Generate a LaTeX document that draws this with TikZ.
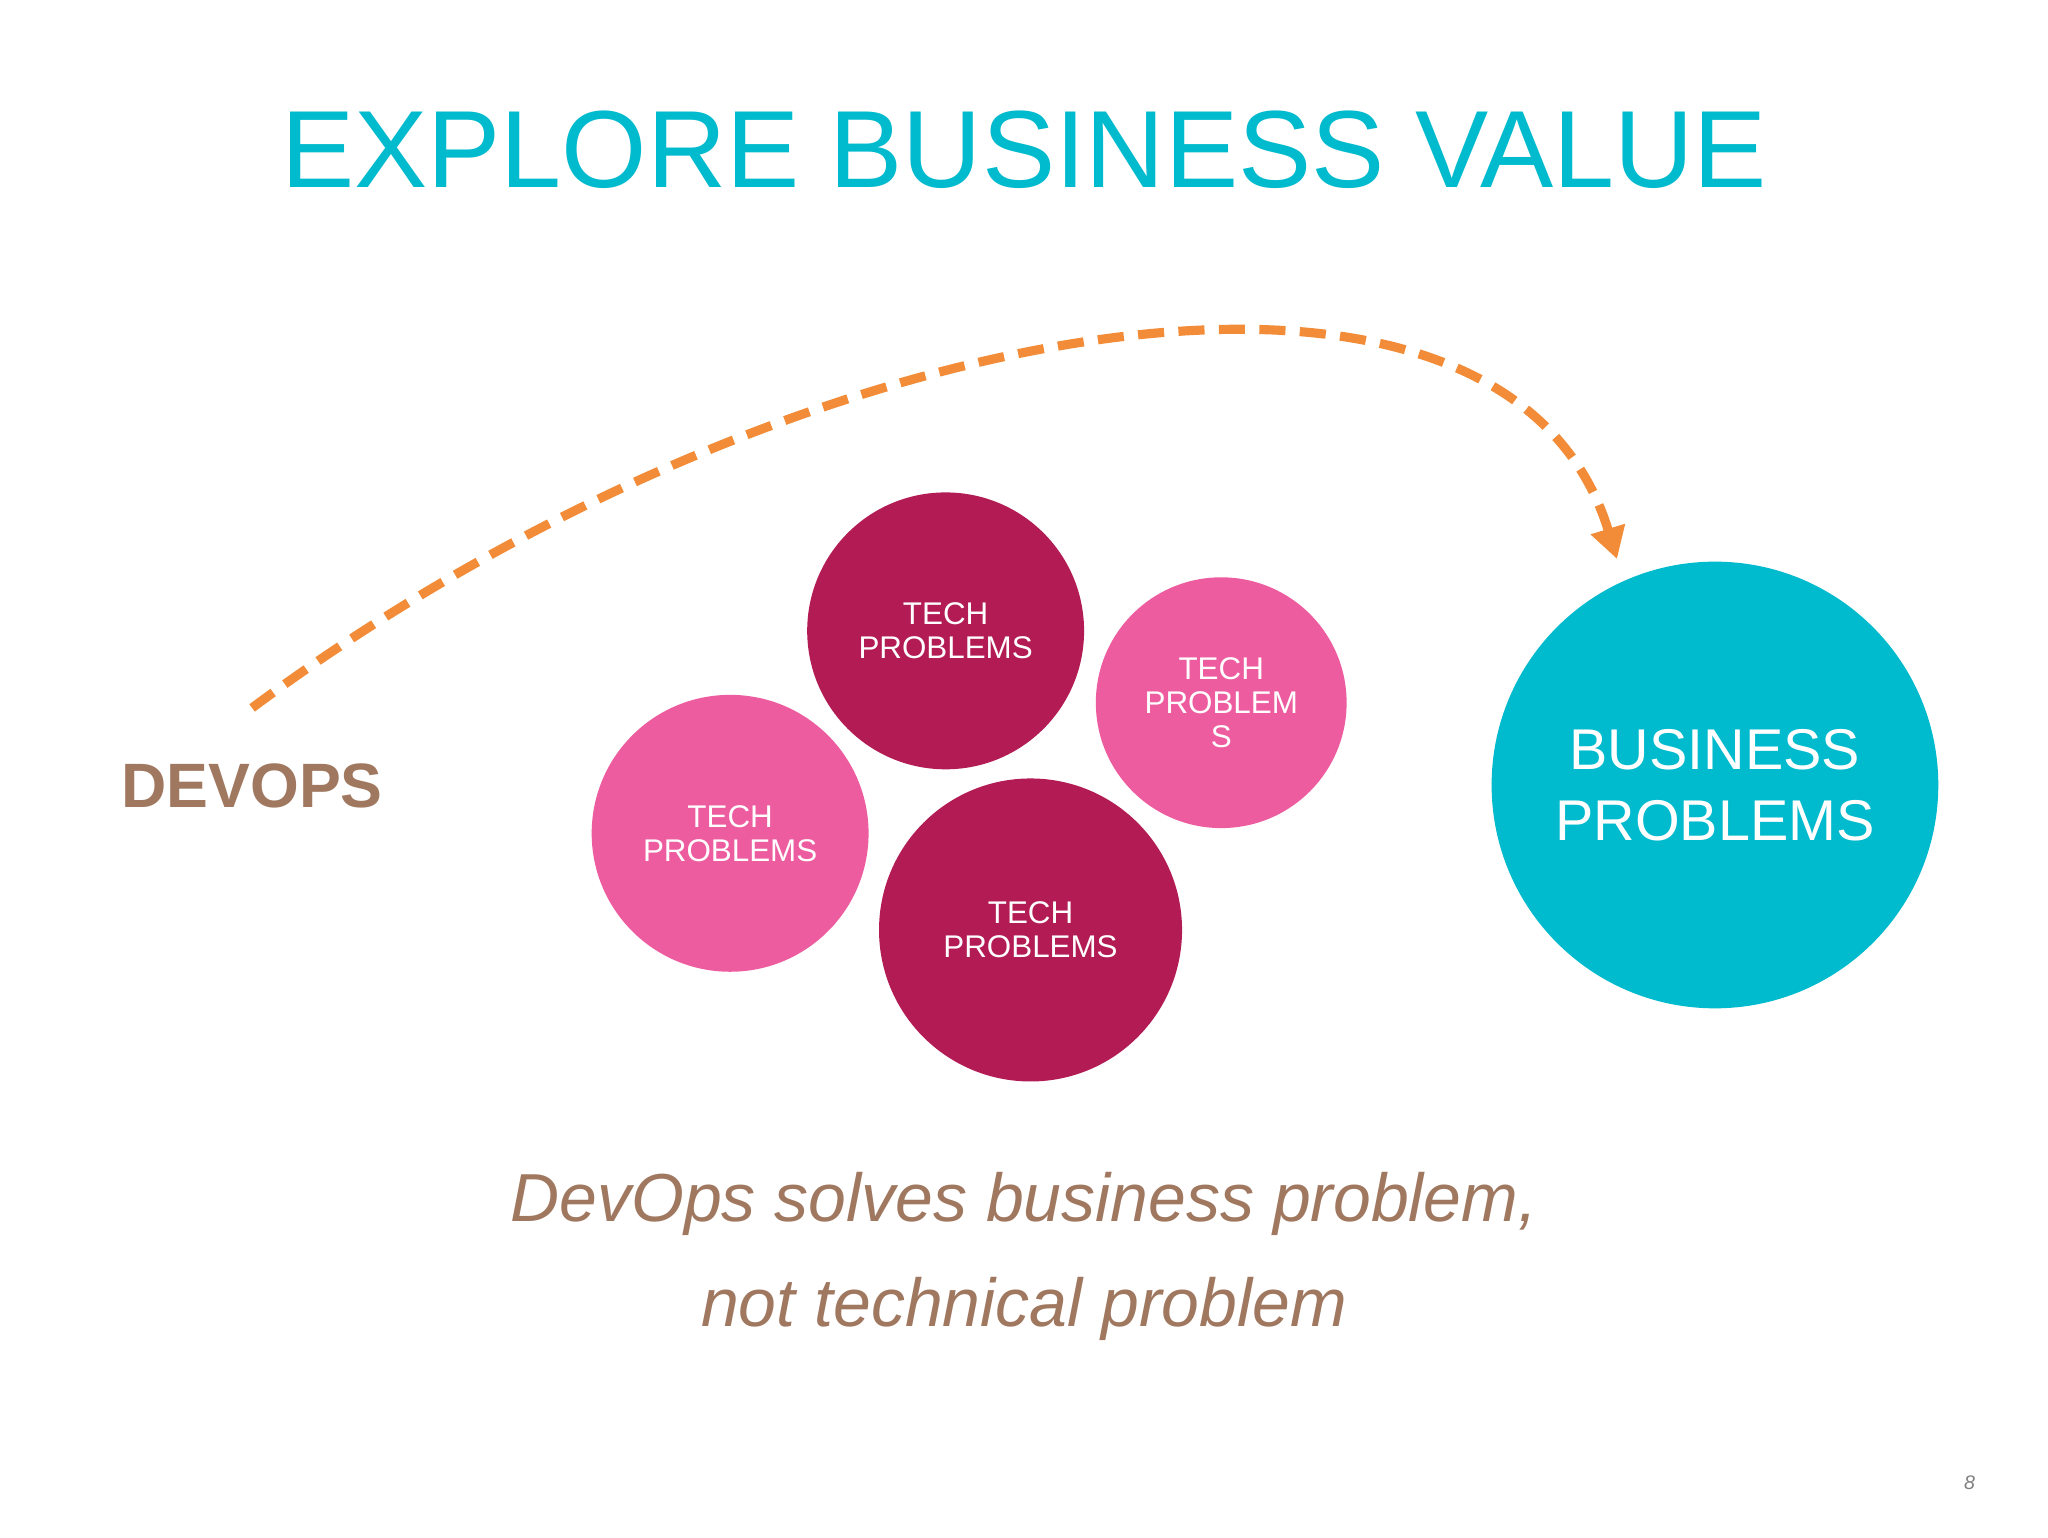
\documentclass[tikz,border=0pt]{standalone}
\usepackage{fontspec}
\setmainfont{Liberation Sans}
\usetikzlibrary{arrows.meta}
\definecolor{dark}{HTML}{B31B54}
\definecolor{pinkc}{HTML}{EE5CA0}
\definecolor{teal}{HTML}{00BACD}
\definecolor{orng}{HTML}{F28C38}
\definecolor{brown}{HTML}{A07860}
\begin{document}
\begin{tikzpicture}[x=1pt,y=-1pt,
 bub/.style={circle,inner sep=0pt,text=white,align=center,font=\fontsize{24}{26}\selectfont},
]
\useasboundingbox (0,0) rectangle (1568,1177);
\fill[white] (0,0) rectangle (1568,1177);
\node[text=teal,font=\fontsize{84}{90}\selectfont] (title) at (784,115) {EXPLORE BUSINESS VALUE};
\node[fill=dark,bub,minimum size=212pt] (t1) at (724,483) {TECH\\PROBLEMS};
\node[fill=pinkc,bub,minimum size=192pt] (t2) at (935,538) {TECH\\PROBLEM\\S};
\node[fill=pinkc,bub,minimum size=212pt] (t3) at (559,638) {TECH\\PROBLEMS};
\node[fill=dark,bub,minimum size=232pt] (t4) at (789,712) {TECH\\PROBLEMS};
\node[fill=teal,bub,minimum size=342pt,font=\fontsize{44}{54}\selectfont] (biz) at (1313,601) {BUSINESS\\PROBLEMS};
\node[text=brown,font=\bfseries\fontsize{48}{52}\selectfont] (devops) at (193,602) {DEVOPS};
\coordinate (s) at (193,542);
\coordinate (e) at (1238,428);
\draw[orng,line width=7pt,dash pattern=on 20pt off 11pt,-{Triangle[length=24pt,width=26pt]}]
 (s) .. controls (600,240) and (1150,140) .. (e);
\node[text=brown,font=\itshape\fontsize{52}{80}\selectfont,align=center] (cap) at (784,962)
 {DevOps solves business problem,\\not technical problem};
\node[text=gray,font=\itshape\fontsize{15}{16}\selectfont] (pg) at (1508,1135) {8};
\end{tikzpicture}
\end{document}
